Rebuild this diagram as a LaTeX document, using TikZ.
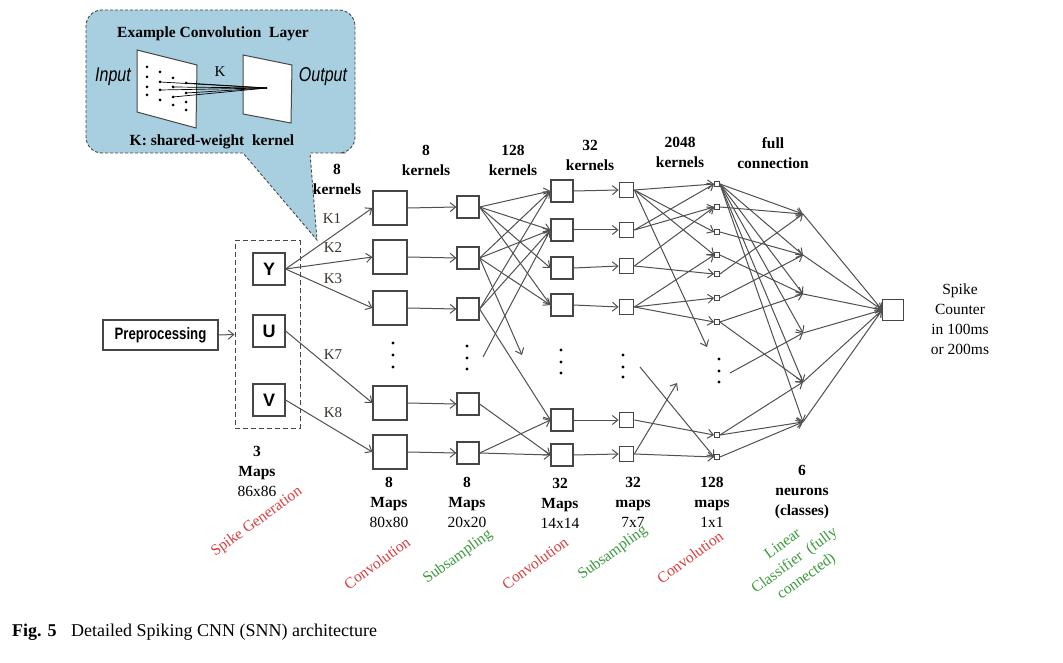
\documentclass[tikz,border=0pt]{standalone}
\usepackage{fontspec}
\setmainfont{Liberation Serif}
\newfontfamily\arialf{Liberation Sans}
\usetikzlibrary{arrows.meta}
\definecolor{calloutblue}{RGB}{168,207,223}
\definecolor{boxc}{RGB}{70,70,70}
\definecolor{linec}{RGB}{80,80,80}
\definecolor{redc}{RGB}{218,62,62}
\definecolor{greenc}{RGB}{58,155,58}
\definecolor{klbl}{RGB}{60,50,45}
\newcommand\lblf{\fontsize{15.5}{20}\selectfont}
\newcommand\capf{\fontsize{18}{21}\selectfont}
\begin{document}
\begin{tikzpicture}[x=1pt,y=-1pt,
  mapbox/.style={draw=boxc, line width=1.2pt, fill=white, inner sep=0pt, minimum width=#1, minimum height=#1},
  tinybox/.style={draw=boxc, line width=0.8pt, fill=white, inner sep=0pt, minimum width=5pt, minimum height=5pt},
  conn/.style={draw=linec, line width=1pt, -{Straight Barb[length=5.5pt,width=9pt]}},
  lbl/.style={font=\lblf, align=center, inner sep=0pt},
  blbl/.style={font=\lblf\bfseries, align=center, inner sep=0pt},
  klab/.style={font=\fontsize{15}{18}\selectfont, text=klbl, inner sep=0pt},
  rotlbl/.style={font=\lblf, rotate=36, inner sep=0pt, align=center},
  plane/.style={draw=boxc, line width=1pt, fill=white},
]
\fill[white] (0,0) rectangle (1063,663);
\useasboundingbox (0,0) rectangle (1063,663);

% ---------- callout ----------
\draw[draw=boxc, line width=0.9pt, dash pattern=on 3pt off 2pt, fill=calloutblue]
  (243,153) -- (200,153) [rounded corners=16pt] -- (86,153) -- (86,10) -- (355,10) -- (355,153) -- (330,153) [sharp corners] -- (310,153) -- (317,240) -- cycle;
\node[font=\bfseries\fontsize{15.5}{18}\selectfont, inner sep=0pt] (ecl) at (213,34) {Example\ Convolution\ \ Layer};
\draw[plane] (137,50) -- (197,65) -- (196,128) -- (137,112) -- cycle;
\draw[plane] (243,55) -- (292,65) -- (291,123) -- (243,114) -- cycle;
\node[inner sep=0pt] (inlbl) at (113,77) {\scalebox{0.8}[1]{\arialf\itshape\fontsize{20}{24}\selectfont Input}};
\node[inner sep=0pt] (outlbl) at (323,77) {\scalebox{0.8}[1]{\arialf\itshape\fontsize{20}{24}\selectfont Output}};
\node[font=\fontsize{15}{18}\selectfont, inner sep=0pt] (klet) at (220,72) {K};
\node[font=\bfseries\fontsize{15.5}{18}\selectfont, inner sep=0pt] (kshared) at (212,142) {K: shared-weight\ \ kernel};
\foreach \px/\py in {147/67,147/77,147/87,147/95,160/72,160/82,160/90,160/100,173/78,173/87,173/97,173/105,186/83,186/93,186/102,186/110}
  \fill (\px,\py) circle (1.5pt);
\coordinate (kc) at (267,88);
\foreach \px/\py in {160/82,160/90,173/87,173/97,186/83,186/93}
  \draw[black, line width=0.7pt] (\px,\py) -- (kc);

% ---------- input side ----------
\node[draw=boxc, line width=1.2pt, minimum width=115pt, minimum height=30pt, inner sep=0pt] (pre) at (160.5,335)
  {\scalebox{0.8}[1]{\arialf\bfseries\fontsize{16.5}{20}\selectfont Preprocessing}};
\node[draw=boxc, line width=1pt, dash pattern=on 5pt off 3pt, minimum width=65pt, minimum height=187pt, inner sep=0pt] (yuv) at (267.5,334.5) {};
\node[mapbox=32pt, font=\arialf\bfseries\fontsize{18}{20}\selectfont] (Y) at (269,269) {Y};
\node[mapbox=32pt, font=\arialf\bfseries\fontsize{18}{20}\selectfont] (U) at (269,331) {U};
\node[mapbox=32pt, font=\arialf\bfseries\fontsize{18}{20}\selectfont] (V) at (269,400) {V};
\draw[conn] (pre.east) -- (yuv.west);

% ---------- layers ----------
\foreach \i/\yy in {1/208,2/257,3/308,4/403,5/452}
  \node[mapbox=34pt] (C1\i) at (390,\yy) {};
\foreach \i/\yy in {1/207,2/258,3/309,4/404,5/453}
  \node[mapbox=22pt] (S1\i) at (468,\yy) {};
\foreach \i/\yy in {1/191,2/230,3/268,4/305,5/420,6/455}
  \node[mapbox=22pt] (C2\i) at (562,\yy) {};
\foreach \i/\yy in {1/190,2/230,3/266,4/307,5/420,6/454}
  \node[mapbox=14.5pt] (S2\i) at (626.5,\yy) {};
\foreach \i/\yy in {1/184,2/207,3/232,4/255,5/274,6/298,7/322,8/435,9/457}
  \node[tinybox] (C3\i) at (717,\yy) {};
\foreach \i/\yy in {1/214,2/255,3/294,4/333,5/382,6/422}
  \coordinate (F\i) at (803,\yy);
\node[mapbox=20.5pt] (out) at (893,310) {};

% dots
\foreach \px/\a/\b/\c in {393/343/355/367, 467/346/358/369, 561/350/362/373, 623/355/367/377, 719/359/371/382}{
  \fill (\px,\a) circle (1.6pt);
  \fill (\px,\b) circle (1.6pt);
  \fill (\px,\c) circle (1.6pt);
}

% free ends
\coordinate (fa1) at (522,355);
\coordinate (fl1) at (483,357);
\coordinate (fa2) at (707,347);
\coordinate (fa3) at (677,383);
\coordinate (fl2) at (640,367);
\coordinate (fl3) at (730,373);

% ---------- connections ----------
\foreach \t in {1,2,3} \draw[conn] (Y.east) -- (C1\t.west);
\draw[conn] (U.east) -- (C14.west);
\draw[conn] (V.east) -- (C15.west);
\foreach \i in {1,...,5} \draw[conn] (C1\i.east) -- (S1\i.west);
\foreach \s/\t in {1/1,1/2,1/3,1/4,2/1,2/2,2/4,3/1,3/2,3/5,4/6,5/5,5/6}
  \draw[conn] (S1\s.east) -- (C2\t.west);
\draw[conn] (S12.east) -- (fa1);
\draw[conn] (fl1) -- (C22.west);
\foreach \i in {1,...,6} \draw[conn] (C2\i.east) -- (S2\i.west);
\foreach \s/\t in {1/1,1/3,1/4,2/1,2/2,3/2,3/5,4/4,4/6,4/7,5/8,6/9}
  \draw[conn] (S2\s.east) -- (C3\t.west);
\draw[conn] (S21.east) -- (fa2);
\draw[conn] (S26.east) -- (fa3);
\draw[conn] (fl2) -- (C39.west);
\foreach \t in {1,...,6} \draw[conn] (C31.east) -- (F\t);
\foreach \s/\t in {2/1,3/2,4/3,5/1,6/2,7/3,7/5,8/5,8/6,9/6}
  \draw[conn] (C3\s.east) -- (F\t);
\draw[conn] (fl3) -- (F4);
\foreach \i in {1,...,6} \draw[conn] (F\i) -- (out.west);

% ---------- K labels ----------
\node[klab] (k1) at (332,219) {K1};
\node[klab] (k2) at (333,248) {K2};
\node[klab] (k3) at (333,279) {K3};
\node[klab] (k7) at (333,355) {K7};
\node[klab] (k8) at (333,413) {K8};

% ---------- headers ----------
\node[blbl] (h1) at (337,179) {8\\kernels};
\node[blbl] (h2) at (426,160) {8\\kernels};
\node[blbl] (h3) at (513,160) {128\\kernels};
\node[blbl] (h4) at (590,155) {32\\kernels};
\node[blbl] (h5) at (680,152) {2048\\kernels};
\node[blbl] (h6) at (773,153) {full\\connection};

% ---------- bottom labels ----------
\node[lbl] (b0) at (257,471) {\textbf{3}\\\textbf{Maps}\\86x86};
\node[lbl] (b1) at (389,502) {\textbf{8}\\\textbf{Maps}\\80x80};
\node[lbl] (b2) at (467,502) {\textbf{8}\\\textbf{Maps}\\20x20};
\node[lbl] (b3) at (560,503) {\textbf{32}\\\textbf{Maps}\\14x14};
\node[lbl] (b4) at (633,502) {\textbf{32}\\\textbf{maps}\\7x7};
\node[lbl] (b5) at (712,502) {\textbf{128}\\\textbf{maps}\\1x1};
\node[blbl] (b6) at (802,492) {6\\neurons\\(classes)};

\node[rotlbl, text=redc] (r0) at (257,522) {Spike Generation};
\node[rotlbl, text=redc] (r1) at (377,563) {Convolution};
\node[rotlbl, text=greenc] (r2) at (458,557) {Subsampling};
\node[rotlbl, text=redc] (r3) at (535,563) {Convolution};
\node[rotlbl, text=greenc] (r4) at (613,553) {Subsampling};
\node[rotlbl, text=redc] (r5) at (690,557) {Convolution};
\node[rotlbl, text=greenc] (r6) at (795,561) {Linear\\Classifier\ \ (fully\\connected)};

% ---------- output text ----------
\node[lbl] (spk) at (960,319) {Spike\\Counter\\in 100ms\\or 200ms};

% ---------- caption ----------
\node[font=\capf\bfseries, anchor=west, inner sep=0pt] (fig) at (12,632) {Fig. 5};
\node[font=\capf, anchor=west, inner sep=0pt] (figtxt) at (71,632) {Detailed Spiking CNN (SNN) architecture};
\end{tikzpicture}
\end{document}
